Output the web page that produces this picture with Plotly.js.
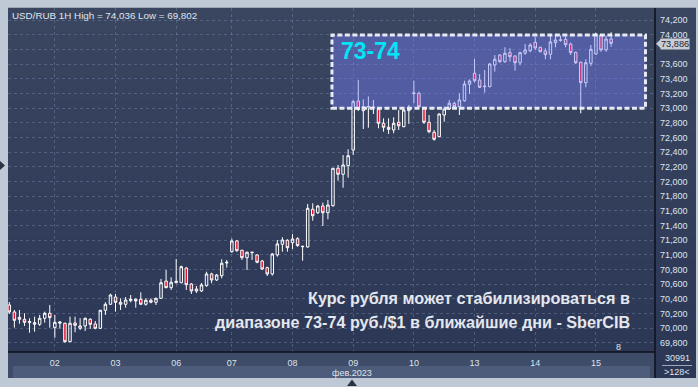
<!DOCTYPE html>
<html><head><meta charset="utf-8">
<script src="https://cdn.plot.ly/plotly-3.0.1.min.js"></script>
<style>html,body{margin:0;padding:0;background:#bfc9d6;overflow:hidden}#chart{width:698px;height:387px}</style>
</head><body><div id="chart"></div>
<script>
// ---- data (USD/RUB 1H, 01–15 Feb 2023) ----
const dayTickIdx = [9, 21, 33, 44, 56, 68, 80, 92, 104, 116];
const dayTickLabels = ['02', '03', '06', '07', '08', '09', '10', '13', '14', '15'];
const monthLabel = 'фев.2023';

const openP = [70318,70223,70150,70123,70077,70055,70055,70137,70205,70009,
70069,70069,69818,70073,70000,70032,70123,70059,70000,70246,
70328,70427,70355,70328,70377,70396,70396,70328,70382,70355,
70409,70645,70554,70622,70622,70822,70604,70509,70509,70581,
70741,70659,70718,70891,71045,71191,71064,70963,71031,71000,
70918,70827,70741,71000,71146,71200,71167,71222,71113,71109,
71623,71576,71668,71576,71672,72182,72100,72217,72431,73099,
72967,73017,73017,72986,72795,72741,72704,72809,72749,72967,
73201,73204,73008,72809,72672,72613,72908,72990,73068,73022,
73103,73327,73477,73385,73294,73294,73590,73726,73635,73758,
73713,73621,73750,73785,73899,73831,73781,73736,73894,73927,
73940,73876,73763,73627,73349,73613,73740,73999,73795,73944];
const highP = [70359,70250,70250,70205,70137,70159,70182,70227,70318,70182,
70100,70077,70159,70159,70137,70145,70137,70100,70250,70355,
70472,70468,70409,70427,70454,70409,70491,70409,70409,70418,
70673,70795,70696,70945,70854,70832,70618,70577,70618,70772,
70758,70741,70941,70932,71222,71204,71072,71045,71040,71009,
70932,70840,71027,71204,71241,71214,71286,71241,71122,71695,
71705,71681,71713,71750,72186,72227,72363,72441,73113,73385,
73122,73161,73113,73000,72863,72863,72877,72976,73000,73045,
73376,73226,73022,72908,72704,72931,73022,73113,73090,73204,
73376,73395,73672,73467,73522,73613,73726,73740,73831,73818,
73722,73771,73876,73886,73968,73839,73818,73999,73999,73990,
73976,73894,73771,73635,73668,73863,74030,74008,73990,74036];
const lowP = [70195,70009,70063,70032,69940,69954,70032,70077,70009,69872,
69995,69802,69810,69946,69977,69964,69991,69987,69991,70182,
70318,70227,70250,70281,70355,70281,70318,70309,70341,70318,
70400,70546,70523,70614,70614,70523,70468,70482,70495,70568,
70614,70645,70682,70827,71031,71045,70932,70795,70932,70887,
70795,70713,70718,70977,71045,71045,71082,71113,70922,71099,
71467,71559,71395,71486,71658,72013,71917,72054,72363,72963,
72717,72735,72922,72727,72681,72649,72659,72704,72741,72786,
73068,73013,72786,72659,72558,72604,72817,72976,73000,72908,
73090,73195,73349,73276,73212,73286,73499,73621,73621,73635,
73512,73586,73730,73763,73795,73763,73668,73668,73831,73908,
73831,73726,73604,72931,73286,73576,73726,73771,73771,73839];
const closeP = [70223,70109,70123,70082,70090,70077,70137,70205,70145,70082,
70086,69818,70069,70041,70032,70137,70055,70000,70246,70328,
70454,70355,70328,70386,70396,70373,70328,70382,70355,70409,
70622,70554,70628,70641,70840,70595,70509,70536,70591,70741,
70659,70727,70887,70900,71191,71058,70963,71037,71037,70900,
70809,70741,71013,71150,71204,71099,71218,71127,71118,71636,
71535,71668,71576,71681,72182,72100,72227,72353,73090,72983,
73022,73024,73011,72795,72741,72713,72795,72762,72976,73000,
73208,73022,72809,72681,72577,72922,72990,73068,73022,73113,
73331,73372,73376,73286,73300,73604,73668,73635,73750,73703,
73621,73758,73795,73863,73822,73771,73730,73904,73931,73931,
73867,73758,73621,73349,73621,73804,74008,73795,73944,73886];

const yTickVals = [69800,70000,70200,70400,70600,70800,71000,71200,71400,71600,71800,
72000,72200,72400,72600,72800,73000,73200,73400,73600,73800,74000,74200];
const yTickText = ['69,800','70,000','70,200','70,400','70,600','70,800','71,000','71,200','71,400','71,600','71,800',
'72,000','72,200','72,400','72,600','72,800','73,000','73,200','73,400','73,600','','74,000','74,200']; // 73,800 is hidden under the price marker
const rangeLow = 73000, rangeHigh = 74000;      // highlighted corridor
const boxStartIdx = 63.8, boxEndIdx = 125.8;
const lastPrice = 73886;
const lastPriceLabel = '73,886';
const titleText = 'USD/RUB 1H High = 74,036 Low = 69,802';
const noteLines = ['Курс рубля может стабилизироваться в', 'диапазоне 73-74 руб./$1 в ближайшие дни - SberCIB'];
const boxLabel = '73-74';
const volText = '30991', zoomText = '>128<', cornerText = '8';

// ---- layout helpers (pixel -> paper) ----
const W = 698, H = 387, L = 8, R = 655, T = 8, B = 352;
const px = x => (x - L) / (R - L);
const py = y => (B - y) / (B - T);
const FONT = 'Liberation Sans, Arial, sans-serif';
const TXT = '#dfe5ee';

const xIdx = openP.map((_, i) => i);

const shapes = [];
// background gradient bands (plot + right axis column)
const topC = [58, 70, 96], botC = [44, 56, 86], N = 30;
for (let k = 0; k < N; k++) {
  const t = k / (N - 1);
  const c = topC.map((v, j) => Math.round(v + (botC[j] - v) * t));
  shapes.push({type: 'rect', xref: 'paper', yref: 'paper', layer: 'below',
    x0: 0, x1: px(696), y0: py(T + (B - T) * (k + 1) / N) - 0.001, y1: py(T + (B - T) * k / N) + 0.001,
    fillcolor: `rgb(${c.join(',')})`, line: {width: 0}});
}
// right column below axis
shapes.push({type: 'rect', xref: 'paper', yref: 'paper', layer: 'below', x0: 1, x1: px(696), y0: py(378), y1: 0,
  fillcolor: 'rgb(44,56,86)', line: {width: 0}});
// x-axis strip
shapes.push({type: 'rect', xref: 'paper', yref: 'paper', layer: 'below', x0: 0, x1: 1, y0: py(378), y1: 0,
  fillcolor: '#3e4b69', line: {width: 0}});
shapes.push({type: 'rect', xref: 'paper', yref: 'paper', layer: 'below', x0: px(13), x1: px(650), y0: py(378), y1: py(366),
  fillcolor: '#4d5c7b', line: {width: 0}});
// black separators
shapes.push({type: 'line', xref: 'paper', yref: 'paper', x0: 1, x1: 1, y0: py(378), y1: 1, line: {color: '#0d111a', width: 1.5}});
shapes.push({type: 'line', xref: 'paper', yref: 'paper', x0: 0, x1: 1, y0: 0, y1: 0, line: {color: '#0d111a', width: 1.5}});
shapes.push({type: 'line', xref: 'paper', yref: 'paper', x0: px(662), x1: px(692), y0: py(365.5), y1: py(365.5), line: {color: '#9aa6ba', width: 1}});
// small arrows on the frame
shapes.push({type: 'path', xref: 'paper', yref: 'paper', path: `M ${px(0)} ${py(161)} L ${px(5)} ${py(165.5)} L ${px(0)} ${py(170)} Z`,
  fillcolor: '#2a3346', line: {width: 0}});
shapes.push({type: 'path', xref: 'paper', yref: 'paper', path: `M ${px(352)} ${py(379.5)} L ${px(357)} ${py(386)} L ${px(347)} ${py(386)} Z`,
  fillcolor: '#2a3346', line: {width: 0}});
// corridor box
shapes.push({type: 'rect', xref: 'x', yref: 'y', layer: 'above', x0: boxStartIdx, x1: boxEndIdx, y0: rangeLow, y1: rangeHigh,
  fillcolor: 'rgba(121,128,255,0.41)', line: {color: 'rgba(240,242,250,0.95)', width: 3, dash: '5px,2.5px'}});
// price marker arrow
shapes.push({type: 'path', xref: 'paper', yref: 'paper',
  path: `M ${px(656)} ${py(43.8)} L ${px(661)} ${py(39)} L ${px(661)} ${py(48.6)} Z`, fillcolor: '#c9cdd6', line: {width: 0}});

const annotations = [
  {xref: 'paper', yref: 'paper', x: px(10), y: py(15), xanchor: 'left', yanchor: 'middle', showarrow: false,
   text: titleText, font: {family: FONT, size: 9.8, color: TXT}},
  {xref: 'paper', yref: 'paper', x: px(632), y: py(298), xanchor: 'right', yanchor: 'middle', showarrow: false,
   text: noteLines[0], font: {family: FONT, size: 16.2, color: '#e4e7ee', weight: 'bold'}},
  {xref: 'paper', yref: 'paper', x: px(632), y: py(322), xanchor: 'right', yanchor: 'middle', showarrow: false,
   text: noteLines[1], font: {family: FONT, size: 16.2, color: '#e4e7ee', weight: 'bold'}},
  {xref: 'paper', yref: 'paper', x: px(339), y: py(51), xanchor: 'left', yanchor: 'middle', showarrow: false,
   text: boxLabel, font: {family: FONT, size: 23, color: '#00e6f6', weight: 'bold'}},
  {xref: 'paper', yref: 'paper', x: px(660), y: py(44), xanchor: 'left', yanchor: 'middle', showarrow: false,
   text: lastPriceLabel, bgcolor: '#c9cdd6', borderpad: 0, font: {family: FONT, size: 9.2, color: '#1b2333'}},
  {xref: 'paper', yref: 'paper', x: px(618), y: py(347), xanchor: 'center', yanchor: 'middle', showarrow: false,
   text: cornerText, font: {family: FONT, size: 9, color: TXT}},
  {xref: 'paper', yref: 'paper', x: px(677), y: py(358), xanchor: 'center', yanchor: 'middle', showarrow: false,
   text: volText, font: {family: FONT, size: 9, color: TXT}},
  {xref: 'paper', yref: 'paper', x: px(677), y: py(372), xanchor: 'center', yanchor: 'middle', showarrow: false,
   text: zoomText, font: {family: FONT, size: 9, color: TXT}},
  {xref: 'paper', yref: 'paper', x: px(352), y: py(372.5), xanchor: 'center', yanchor: 'middle', showarrow: false,
   text: monthLabel, font: {family: FONT, size: 9, color: TXT}}
];

const trace = {
  type: 'candlestick', x: xIdx, open: openP, high: highP, low: lowP, close: closeP,
  increasing: {line: {color: '#ffffff', width: 1}, fillcolor: 'rgba(0,0,0,0)'},
  decreasing: {line: {color: '#ffffff', width: 1}, fillcolor: '#e3102f'},
  whiskerwidth: 0, hoverinfo: 'skip', showlegend: false
};

const layout = {
  width: W, height: H,
  margin: {l: L, r: W - R, t: T, b: H - B, pad: 0},
  paper_bgcolor: '#bfc9d6', plot_bgcolor: 'rgba(0,0,0,0)',
  font: {family: FONT, size: 9, color: TXT},
  showlegend: false,
  xaxis: {range: [-0.26, 127.68], tickvals: dayTickIdx, ticktext: dayTickLabels, ticks: '',
    showgrid: true, gridcolor: 'rgba(120,136,170,0.45)', griddash: '3px,3px', gridwidth: 1,
    zeroline: false, showline: false, rangeslider: {visible: false}, fixedrange: true,
    tickfont: {family: FONT, size: 9, color: TXT}, ticklabelstandoff: 4},
  yaxis: {side: 'right', range: [69677, 74367], tickvals: yTickVals, ticktext: yTickText, ticks: '',
    showgrid: true, gridcolor: 'rgba(120,136,170,0.45)', griddash: '3px,3px', gridwidth: 1,
    zeroline: false, showline: false, fixedrange: true,
    tickfont: {family: FONT, size: 9, color: TXT}, ticklabelstandoff: 4},
  shapes: shapes, annotations: annotations
};

Plotly.newPlot('chart', [trace], layout, {staticPlot: true, displayModeBar: false});
</script></body></html>
